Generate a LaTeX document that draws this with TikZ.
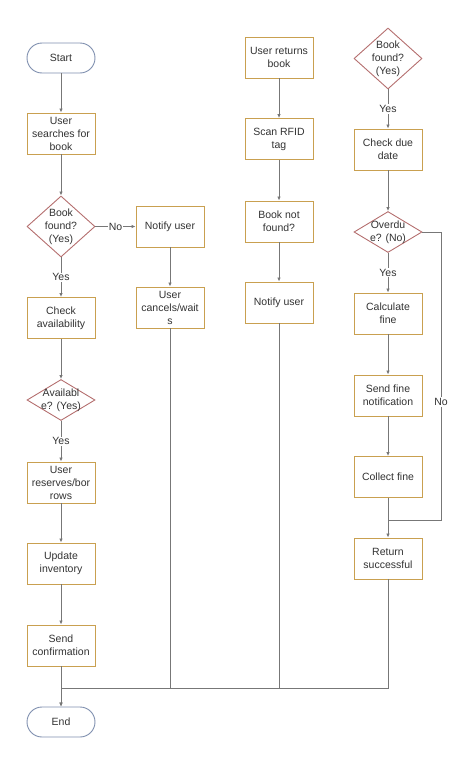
\documentclass[tikz,border=0pt]{standalone}
\usepackage{fontspec}
\setmainfont{Liberation Sans}
\usetikzlibrary{shapes.geometric,arrows.meta}
\definecolor{boxc}{HTML}{C9A050}
\definecolor{diac}{HTML}{B56F6F}
\definecolor{termc}{HTML}{7F8FAF}
\definecolor{linec}{HTML}{777777}
\definecolor{txtc}{HTML}{333333}
\tikzset{
  base/.style={font=\fontsize{10.5}{13}\selectfont, text=txtc, align=center, inner sep=0pt, fill=white, line width=0.9pt},
  stepbox/.style={base, draw=boxc, rectangle, minimum width=68pt, minimum height=41pt},
  term/.style={base, draw=termc, rounded corners=15pt, minimum width=68pt, minimum height=30pt},
  dia/.style={base, draw=diac, diamond, minimum width=68pt, minimum height=#1},
  dia/.default=61pt,
  conn/.style={draw=linec, line width=0.8pt},
  arr/.style={conn, -{Latex[length=4pt,width=3.5pt]}},
  lbl/.style={font=\fontsize{10.5}{13}\selectfont, text=txtc, fill=white, inner sep=1pt}
}
\begin{document}
\begin{tikzpicture}[x=1pt,y=-1pt]
\useasboundingbox (0,0) rectangle (474,763);
% column 1
\node[term] (start) at (61,58) {Start};
\node[stepbox] (search) at (61,133.5) {User\\searches for\\book};
\node[dia, label={[base,fill=none]center:{Book\\found?\\(Yes)}}] (found1) at (61,226.5) {};
\node[stepbox] (check) at (61,318) {Check\\availability};
\node[dia=41pt, label={[base,fill=none]center:{Availabl\\e? (Yes)}}] (avail) at (61,400) {};
\node[stepbox] (reserve) at (61,482.5) {User\\reserves/bor\\rows};
\node[stepbox] (update) at (61,563.5) {Update\\inventory};
\node[stepbox] (confirm) at (61,645.5) {Send\\confirmation};
\node[term] (end) at (61,722) {End};
% column 2
\node[stepbox] (notify1) at (170,226.5) {Notify user};
\node[stepbox] (cancel) at (170,307.5) {User\\cancels/wait\\s};
% column 3
\node[stepbox] (returns) at (279,57.5) {User returns\\book};
\node[stepbox] (scan) at (279,139) {Scan RFID\\tag};
\node[stepbox] (notfound) at (279,221.5) {Book not\\found?};
\node[stepbox] (notify2) at (279,302.5) {Notify user};
% column 4
\node[dia, label={[base,fill=none]center:{Book\\found?\\(Yes)}}] (found2) at (388,58.5) {};
\node[stepbox] (due) at (388,149.5) {Check due\\date};
\node[dia=41pt, label={[base,fill=none]center:{Overdu\\e? (No)}}] (overdue) at (388,232) {};
\node[stepbox] (calc) at (388,313.5) {Calculate\\fine};
\node[stepbox] (sendfine) at (388,395.5) {Send fine\\notification};
\node[stepbox] (collect) at (388,477) {Collect fine};
\node[stepbox] (ret) at (388,558.5) {Return\\successful};
% helper coordinates
\coordinate (m) at (61,688);
\coordinate (nr) at (441,232);
\coordinate (nb) at (441,520);
\coordinate (nj) at (388,520);
% connectors column 1
\draw[arr] (start) -- (search);
\draw[arr] (search) -- (found1);
\draw[arr] (found1) -- node[lbl]{Yes} (check);
\draw[arr] (found1) -- node[lbl]{No} (notify1);
\draw[arr] (check) -- (avail);
\draw[arr] (avail) -- node[lbl]{Yes} (reserve);
\draw[arr] (reserve) -- (update);
\draw[arr] (update) -- (confirm);
\draw[arr] (confirm) -- (end);
% column 2
\draw[arr] (notify1) -- (cancel);
\draw[conn] (cancel.south) -- (cancel.south |- m) -- (m);
% column 3
\draw[arr] (returns) -- (scan);
\draw[arr] (scan) -- (notfound);
\draw[arr] (notfound) -- (notify2);
\draw[conn] (notify2.south) -- (notify2.south |- m) -- (m);
% column 4
\draw[arr] (found2) -- node[lbl]{Yes} (due);
\draw[arr] (due) -- (overdue);
\draw[arr] (overdue) -- node[lbl]{Yes} (calc);
\draw[arr] (calc) -- (sendfine);
\draw[arr] (sendfine) -- (collect);
\draw[conn] (collect) -- (nj);
\draw[arr] (overdue.east) -- (nr) -- node[lbl, pos=0.59]{No} (nb) -- (nj) -- (ret);
\draw[conn] (ret.south) -- (ret.south |- m) -- (m);
\draw[arr] (m) -- (end);
\end{tikzpicture}
\end{document}
